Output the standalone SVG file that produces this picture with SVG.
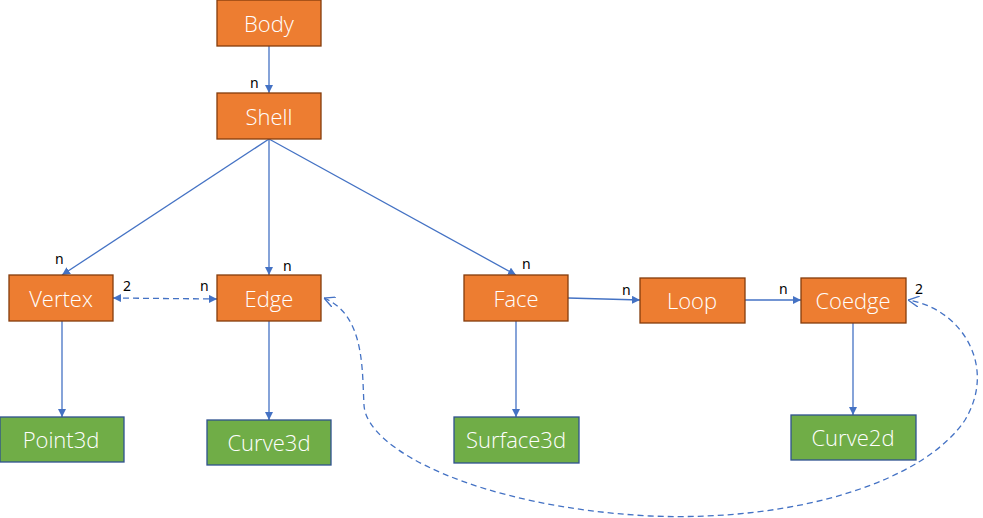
<svg xmlns="http://www.w3.org/2000/svg" width="983" height="518" viewBox="0 0 983 518">
<style>
.o{fill:#ED7D31;stroke:#843C0C;stroke-width:1.3}
.g{fill:#70AD47;stroke:#2F528F;stroke-width:1.3}
.t{font-family:"Open Sans","Noto Sans","Liberation Sans",sans-serif;font-weight:300;font-size:22px;fill:#fff;text-anchor:middle;dominant-baseline:central}
.l{font-family:"Noto Sans","Liberation Sans",sans-serif;font-size:14px;fill:#000}
.c{stroke:#4472C4;stroke-width:1.3;fill:none}
.d{stroke-dasharray:6 4}
</style>
<defs>
<marker id="a" viewBox="0 0 10 10" refX="10" refY="5" markerWidth="8" markerHeight="8" orient="auto-start-reverse" markerUnits="userSpaceOnUse"><path d="M0 0L10 5L0 10z" fill="#4472C4"/></marker>
<marker id="v" viewBox="0 0 10 10" refX="10" refY="5" markerWidth="11" markerHeight="11" orient="auto-start-reverse" markerUnits="userSpaceOnUse"><path d="M0 0L10 5L0 10" fill="none" stroke="#4472C4" stroke-width="1.2"/></marker>
</defs>
<g id="connectors">
<path class="c" d="M269 46V93" marker-end="url(#a)"/>
<path class="c" d="M269 139L62 275" marker-end="url(#a)"/>
<path class="c" d="M269 139V275" marker-end="url(#a)"/>
<path class="c" d="M269 139L516 275" marker-end="url(#a)"/>
<path class="c d" d="M113 298L217 299" marker-start="url(#a)" marker-end="url(#a)"/>
<path class="c" d="M568 298L640 300" marker-end="url(#a)"/>
<path class="c" d="M745 300H801" marker-end="url(#a)"/>
<path class="c" d="M62 321V417" marker-end="url(#a)"/>
<path class="c" d="M269 321V420" marker-end="url(#a)"/>
<path class="c" d="M516 321V417" marker-end="url(#a)"/>
<path class="c" d="M853 323V415" marker-end="url(#a)"/>
<path class="c d" d="M324 298C365 315 362 370 364 405C366 450 480 507 650 516C800 522 925 480 965 420C998 365 960 308 908 300" marker-start="url(#v)" marker-end="url(#v)"/>
<text class="l" x="250" y="88">n</text>
<text class="l" x="55" y="264">n</text>
<text class="l" x="283" y="271">n</text>
<text class="l" x="522" y="269">n</text>
<text class="l" x="123" y="291">2</text>
<text class="l" x="200" y="291">n</text>
<text class="l" x="622" y="295">n</text>
<text class="l" x="779" y="294">n</text>
<text class="l" x="915" y="294">2</text>
</g>
<g id="Body"><rect class="o" x="217" y="0" width="104" height="46"/><text class="t" x="269" y="23">Body</text></g>
<g id="Shell"><rect class="o" x="217" y="93" width="104" height="46"/><text class="t" x="269" y="116">Shell</text></g>
<g id="Vertex"><rect class="o" x="9" y="275" width="104" height="46"/><text class="t" x="61" y="298">Vertex</text></g>
<g id="Edge"><rect class="o" x="217" y="275" width="104" height="46"/><text class="t" x="269" y="298">Edge</text></g>
<g id="Face"><rect class="o" x="464" y="275" width="104" height="46"/><text class="t" x="516" y="298">Face</text></g>
<g id="Loop"><rect class="o" x="640" y="278" width="105" height="45"/><text class="t" x="692" y="300">Loop</text></g>
<g id="Coedge"><rect class="o" x="801" y="278" width="105" height="45"/><text class="t" x="853" y="300">Coedge</text></g>
<g id="Point3d"><rect class="g" x="0" y="417" width="124" height="45"/><text class="t" x="61" y="439">Point3d</text></g>
<g id="Curve3d"><rect class="g" x="207" y="420" width="124" height="45"/><text class="t" x="269" y="442">Curve3d</text></g>
<g id="Surface3d"><rect class="g" x="454" y="417" width="125" height="46"/><text class="t" x="516" y="439">Surface3d</text></g>
<g id="Curve2d"><rect class="g" x="791" y="415" width="125" height="45"/><text class="t" x="853" y="437">Curve2d</text></g>
</svg>
